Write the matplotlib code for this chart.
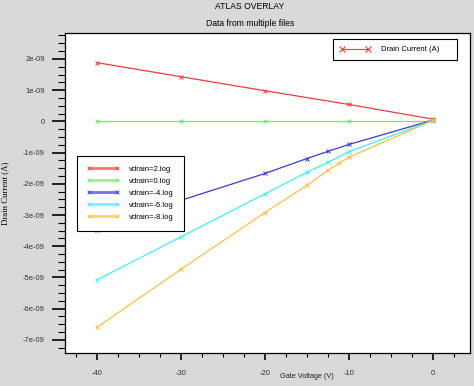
import numpy as np
import matplotlib
matplotlib.use("Agg")
import matplotlib.pyplot as plt
from matplotlib.ticker import FixedLocator, MultipleLocator, FuncFormatter
from matplotlib.lines import Line2D

plt.rcParams['font.family'] = ['Liberation Sans', 'DejaVu Sans']
plt.rcParams['axes.unicode_minus'] = False

# gate voltage sweeps (V) and drain currents (A) per file
vg_coarse = [-40, -30, -20, -10, 0]
id_vd2 = [1.88e-9, 1.43e-9, 0.98e-9, 0.54e-9, 0.07e-9]
id_vd0 = [0.0, 0.0, 0.0, 0.0, 0.0]

vg_fine = [-40, -30, -20, -15, -12.5, -10, 0]
id_vdm4 = [-3.49e-9, -2.53e-9, -1.67e-9, -1.19e-9, -0.96e-9, -0.74e-9, 0.04e-9]
id_vdm6 = [-5.08e-9, -3.70e-9, -2.32e-9, -1.63e-9, -1.31e-9, -0.97e-9, 0.03e-9]

vg_fine8 = [-40, -30, -20, -15, -12.5, -11.25, -10, 0]
id_vdm8 = [-6.60e-9, -4.74e-9, -2.92e-9, -2.05e-9, -1.57e-9, -1.35e-9, -1.15e-9, 0.03e-9]

labels = ['vdrain=2.log', 'vdrain=0.log', 'vdrain=-4.log', 'vdrain=-6.log', 'vdrain=-8.log']
colors = ['#f03c3c', '#70e870', '#3a3ad8', '#40f0f0', '#f8c048']

series = [(vg_coarse, id_vd2), (vg_coarse, id_vd0), (vg_fine, id_vdm4),
          (vg_fine, id_vdm6), (vg_fine8, id_vdm8)]

fig = plt.figure(figsize=(4.74, 3.86), dpi=100, facecolor='#d9d9d9')
ax = fig.add_axes([65/474, 1-353/386, 405/474, 320/386])
ax.set_facecolor('white')

for (x, y), c in zip(series, colors):
    ax.plot(x, y, color=c, lw=0.9, marker='x', ms=3.5, mew=0.7)

ax.set_xlim(-43.8, 4.4)
ax.set_ylim(-7.42e-9, 2.83e-9)

ax.xaxis.set_major_locator(FixedLocator([-40, -30, -20, -10, 0]))
ax.xaxis.set_minor_locator(MultipleLocator(2.5))
ax.yaxis.set_major_locator(FixedLocator(np.arange(-7, 3) * 1e-9))
ax.yaxis.set_minor_locator(MultipleLocator(0.25e-9))
ax.yaxis.set_major_formatter(FuncFormatter(lambda v, p: '0' if abs(v) < 1e-15 else '%g' % v))

ax.tick_params(axis='y', which='major', direction='out', length=9.5, width=1.2, pad=5,
               labelsize=5.5, labelcolor='#333333')
ax.tick_params(axis='y', which='minor', direction='out', length=5, width=0.8)
ax.tick_params(axis='x', which='major', direction='out', length=5, width=1.2, pad=7,
               labelsize=5.5, labelcolor='#333333')
ax.tick_params(axis='x', which='minor', direction='out', length=3, width=0.8)
for s in ax.spines.values():
    s.set_linewidth(0.9)

ax.set_ylabel('Drain Current (A)', family='Liberation Serif', fontsize=6.3, labelpad=10)
fig.text(307/474, 1-377/386, 'Gate Voltage (V)', fontsize=5.3, ha='center', va='center',
         color='#222222')

fig.text(250/474, 1-6.5/386, 'ATLAS OVERLAY', fontsize=6.2, ha='center', va='center')
fig.text(250/474, 1-23.5/386, 'Data from multiple files', fontsize=6.2, ha='center', va='center')

handles = [Line2D([], [], color=c, lw=2, alpha=0.7, marker='x', ms=3.5, mew=0.7) for c in colors]
leg1 = ax.legend(handles, labels, loc='upper left', bbox_to_anchor=(0.0296, 0.616),
                 borderaxespad=0, fontsize=5.5, numpoints=2, handlelength=4.3,
                 handletextpad=1.3, labelspacing=0.62, borderpad=1.25, fancybox=False,
                 framealpha=1, edgecolor='black')
leg1.get_frame().set_linewidth(0.8)
ax.add_artist(leg1)

red_h = Line2D([], [], color=colors[0], lw=0.8, marker='x', ms=4, mew=0.8)
leg2 = ax.legend([red_h], ['Drain Current (A)'], loc='upper left',
                 bbox_to_anchor=(0.662, 0.906, 0.306, 0.075), mode='expand',
                 borderaxespad=0, fontsize=5.5, numpoints=2, handlelength=4.0,
                 handletextpad=1.4, borderpad=0.9, fancybox=False, framealpha=1,
                 edgecolor='black')
leg2.get_frame().set_linewidth(0.8)

fig.savefig('out.png', dpi=100, facecolor=fig.get_facecolor())
